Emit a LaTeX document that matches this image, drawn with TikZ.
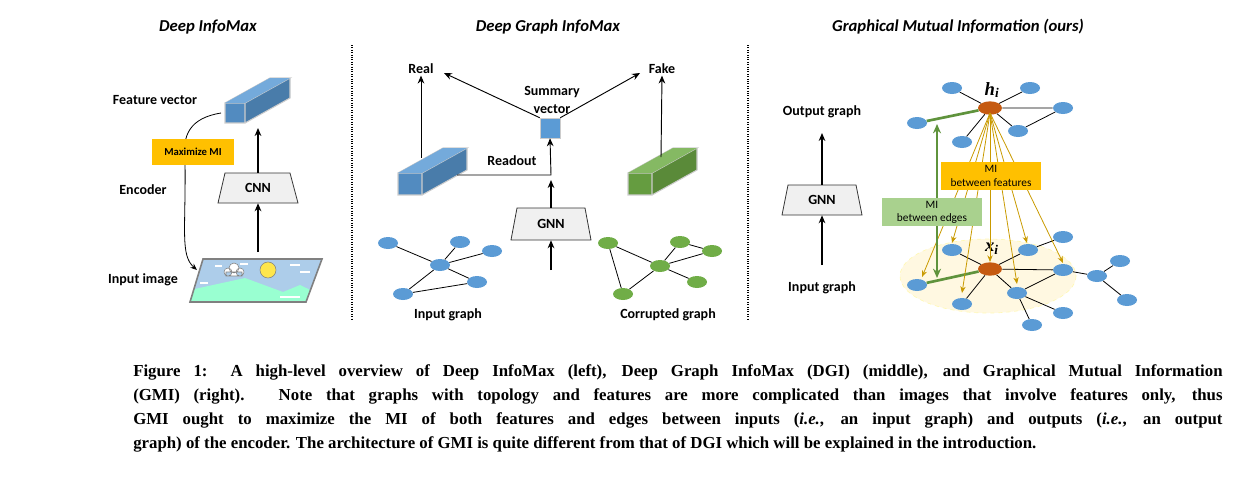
\documentclass[tikz,border=0pt]{standalone}
\usepackage{fontspec}
\setmainfont{Liberation Serif}
\newfontfamily\carlitof{Carlito}
\usetikzlibrary{shapes.geometric,arrows.meta}
\definecolor{nblue}{HTML}{5B9BD5}
\definecolor{ngreen}{HTML}{70AD47}
\definecolor{norange}{HTML}{C55A11}
\definecolor{gold}{HTML}{FFC000}
\definecolor{mgreen}{HTML}{A9D18E}
\definecolor{farrow}{HTML}{C99A00}
\definecolor{cream}{HTML}{FFF8E1}
\newcommand\mycube[5]{%
  \fill[#5] (#1,#2) -- ++(45,-25) -- ++(#3-#1,0) -- ++(-45,25) -- cycle;
  \fill[#5!80!black] (#3,#2) -- ++(45,-25) -- ++(0,#4-#2) -- ++(-45,25) -- cycle;
  \fill[#5!90!black] (#1,#2) rectangle (#3,#4);
  \draw[gray!40,line width=0.8pt] (#1,#2) rectangle (#3,#4) (#1,#2) -- ++(45,-25) -- ++(#3-#1,0) -- ++(-45,25) (#3,#4) -- ++(45,-25) -- ++(0,#2-#4);
  \fill[#5!85!white] (#1,#2) -- ++(45,-25) -- ++(#3-#1,0) -- ++(-45,25) -- cycle;}
\tikzset{
  lbl/.style={font=\carlitof\bfseries\fontsize{10.5}{12}\selectfont, inner sep=1pt},
  ttl/.style={font=\carlitof\bfseries\itshape\fontsize{12.5}{14}\selectfont},
  arr/.style={-{Stealth[length=6pt,width=5pt]}, line width=0.9pt},
  trap/.style={draw=black!80, fill=gray!12, line width=0.6pt},
  bn/.style={ellipse, fill=nblue, minimum width=15pt, minimum height=9pt, inner sep=0pt},
  gn/.style={ellipse, fill=ngreen, minimum width=15pt, minimum height=9pt, inner sep=0pt},
  on/.style={ellipse, fill=norange, minimum width=18pt, minimum height=10pt, inner sep=0pt},
  ed/.style={line width=0.6pt},
  ged/.style={line width=2pt, draw=ngreen!85!black},
  farr/.style={-{Stealth[length=5pt,width=4pt]}, draw=farrow, line width=0.6pt},
  sep/.style={densely dotted, line width=0.8pt},
}
\begin{document}
\begin{tikzpicture}[x=0.75pt,y=-0.75pt]
\useasboundingbox (0,0) rectangle (1245,480);
% separators
\draw[sep] (352,45) -- (352,320);
\draw[sep] (748,45) -- (748,320);
% ---------- left ----------
\node[ttl] (t1) at (208,27) {Deep InfoMax};
\mycube{225}{103}{245}{123}{nblue}
\coordinate (fv) at (221,113);
\node[lbl] (fvl) at (155,100) {Feature vector};
\draw[trap] (225,173) -- (290,173) -- (298,203) -- (218,203) -- cycle;
\node[lbl, minimum height=22.5pt, inner sep=0pt] (cnn) at (258,188) {CNN};
\node[lbl] (enc) at (143,190) {Encoder};
% image
\begin{scope}
\clip (203,259) -- (322,259) -- (306,302) -- (190,302) -- cycle;
\fill[nblue!50] (185,255) rectangle (325,305);
\fill[green!45!cyan!40] (190,290) -- (245,278) -- (283,292) -- (300,285) -- (325,297) -- (325,305) -- (185,305) -- cycle;
\draw[white,line width=0.8pt] (215,266)--(222,266) (240,264)--(248,264) (290,265)--(300,265) (300,272)--(310,272) (200,283)--(208,283) (280,297)--(300,297);
\fill[yellow!80!orange!70, draw=gray] (268,270) circle (8);
\fill[white, draw=gray] (228,272) circle (4) (234,268) circle (5) (240,272) circle (4) (226,272) rectangle (242,276);
\end{scope}
\draw[gray,line width=1.2pt] (203,259) -- (322,259) -- (306,302) -- (190,302) -- cycle;
\coordinate (img) at (197,270);
\coordinate (imgt) at (258,252);
\node[lbl] (iml) at (143,280) {Input image};
\draw[arr] (imgt) -- (cnn.south);
\draw[arr] (cnn.north) -- (258,128);
\draw[-{Stealth[length=5pt,width=4pt]}, line width=0.6pt] (fv) .. controls (190,118) and (182,135) .. (185,160) .. controls (186,230) and (180,255) .. (img);
\node[fill=gold, minimum width=62pt, minimum height=20pt, font=\carlitof\bfseries\fontsize{8}{10}\selectfont] (mmi) at (193,152) {Maximize MI};
% ---------- middle ----------
\node[ttl] (t2) at (548,27) {Deep Graph InfoMax};
\node[lbl] (real) at (421,69) {Real};
\node[lbl] (fake) at (662,69) {Fake};
\node[lbl, align=center, font=\carlitof\bfseries\fontsize{10.5}{14}\selectfont] (sv) at (552,100) {Summary\\vector};
\node[fill=nblue, draw=gray!40, minimum size=15pt, inner sep=0pt] (sq) at (550,128) {};
\mycube{398}{173}{422}{195}{nblue}
\mycube{628}{173}{652}{195}{ngreen}
\draw[arr, line width=0.7pt] (sq.north west) -- (444,73);
\draw[arr, line width=0.7pt] (sq.north east) -- (640,73);
\draw[arr, line width=0.7pt] (421,158) -- (real.south);
\draw[arr, line width=0.7pt] (661,157) -- (fake.south);
\coordinate (ro) at (457,175);
\draw[arr, line width=0.7pt] (ro) -- (551,175) -- (sq.south);
\node[lbl] (rol) at (512,161) {Readout};
\draw[trap] (517,208) -- (585,208) -- (591,240) -- (511,240) -- cycle;
\node[lbl, minimum height=24pt, inner sep=0pt] (gnn1) at (551,224) {GNN};
\draw[arr] (gnn1.north) -- (551,180);
\coordinate (g1b) at (551,270);
\draw[arr] (g1b) -- (gnn1.south);
% input graph
\node[bn] (a1) at (388,243) {}; \node[bn] (a2) at (460,242) {}; \node[bn] (a3) at (492,251) {};
\node[bn] (a4) at (440,265) {}; \node[bn] (a5) at (477,282) {}; \node[bn] (a6) at (403,294) {};
\draw[ed] (a1)--(a4) (a2)--(a4) (a3)--(a4) (a4)--(a5) (a4)--(a6) (a6)--(a5);
\node[gn] (c1) at (608,243) {}; \node[gn] (c2) at (680,242) {}; \node[gn] (c3) at (712,251) {};
\node[gn] (c4) at (660,266) {}; \node[gn] (c5) at (697,282) {}; \node[gn] (c6) at (623,294) {};
\draw[ed] (c1)--(c6) (c1)--(c4) (c2)--(c4) (c3)--(c4) (c2)--(c3) (c4)--(c5) (c4)--(c6);
\node[lbl] (igl) at (448,315) {Input graph};
\node[lbl] (cgl) at (668,315) {Corrupted graph};
% ---------- right ----------
\node[ttl] (t3) at (958,27) {Graphical Mutual Information (ours)};
\node[lbl] (ogl) at (822,112) {Output graph};
\draw[trap] (788,185) -- (856,185) -- (862,215) -- (782,215) -- cycle;
\node[lbl, minimum height=22.5pt, inner sep=0pt] (gnn2) at (822,200) {GNN};
\node[lbl] (igl2) at (822,288) {Input graph};
\draw[arr] (gnn2.north) -- (822,133);
\draw[arr] (822,265) -- (gnn2.south);
\draw[cream!80!yellow, fill=cream, dashed, line width=0.5pt] (988,276) ellipse (88 and 37);
% top graph
\node[on] (h) at (990,108) {};
\node[font=\bfseries\itshape\fontsize{14}{14}\selectfont] (hl) at (992,90) {h\textsubscript{\fontsize{10}{10}\selectfont i}};
\node[bn] (u1) at (952,88) {}; \node[bn] (u2) at (1030,88) {}; \node[bn] (u3) at (1063,108) {};
\node[bn] (u4) at (1018,131) {}; \node[bn] (u5) at (917,123) {}; \node[bn] (u6) at (962,142) {};
\draw[ed] (h)--(u1) (h)--(u2) (h)--(u3) (h)--(u4) (h)--(u6) (u3)--(u4);
\draw[ged] (h)--(u5);
% bottom graph
\node[on] (x) at (990,269) {};
\node[font=\bfseries\itshape\fontsize{14}{14}\selectfont] (xl) at (992,249) {x\textsubscript{\fontsize{10}{10}\selectfont i}};
\node[bn] (b1) at (952,250) {}; \node[bn] (b2) at (1028,250) {}; \node[bn] (b3) at (1063,237) {};
\node[bn] (b4) at (1063,270) {}; \node[bn] (b5) at (1097,276) {}; \node[bn] (b6) at (1120,261) {};
\node[bn] (b7) at (1127,300) {}; \node[bn] (b8) at (917,285) {}; \node[bn] (b9) at (962,304) {};
\node[bn] (b10) at (1017,293) {}; \node[bn] (b11) at (1063,313) {}; \node[bn] (b12) at (1032,325) {};
\draw[ed] (x)--(b1) (x)--(b2) (b2)--(b3) (x)--(b4) (b4)--(b5) (b5)--(b6) (b5)--(b7) (x)--(b9) (x)--(b10) (b10)--(b4) (b10)--(b11) (b10)--(b12);
\draw[ged] (x)--(b8);
% feature arrows
\coordinate (hs) at (990,113);
\foreach \tx/\ty in {922/277, 952/243, 962/293, 990/262, 1017/284, 1027/243, 1063/263}
  \draw[farr] (hs) -- (\tx,\ty);
\draw[ged, {Stealth[length=7pt,width=6pt]}-{Stealth[length=7pt,width=6pt]}, line width=1.8pt] (937,124) -- (937,278);
\node[fill=gold, minimum width=75pt, minimum height=21pt, align=center, inner sep=1pt, font=\carlitof\fontsize{8.5}{10}\selectfont] (mif) at (991,176) {MI\\between features};
\node[fill=mgreen, minimum width=75pt, minimum height=21pt, align=center, inner sep=1pt, font=\carlitof\fontsize{8.5}{10}\selectfont] (mie) at (932,212) {MI\\between edges};
% caption
\node[anchor=north west, inner sep=0pt, text width=817pt, align=justify, font=\bfseries\fontsize{12.6}{18}\selectfont] (cap) at (133,364) {Figure 1: A high-level overview of Deep InfoMax (left), Deep Graph InfoMax (DGI) (middle), and Graphical Mutual Information\linebreak (GMI) (right). Note that graphs with topology and features are more complicated than images that involve features only, thus\linebreak GMI ought to maximize the MI of both features and edges between inputs (\textit{i.e.}, an input graph) and outputs (\textit{i.e.}, an output\linebreak graph) of the encoder. The architecture of GMI is quite different from that of DGI which will be explained in the introduction.};
\end{tikzpicture}
\end{document}
